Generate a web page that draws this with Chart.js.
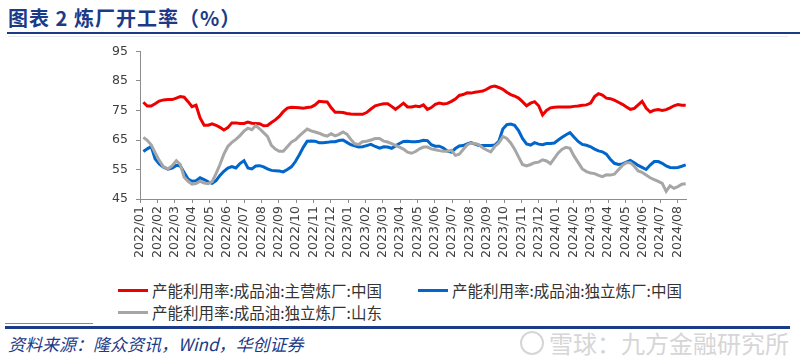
<!DOCTYPE html>
<html>
<head>
<meta charset="utf-8">
<script src="https://cdn.jsdelivr.net/npm/chart.js@4.4.1/dist/chart.umd.min.js"></script>
<style>
  body { margin: 0; width: 800px; height: 362px; position: relative; background: #fff; overflow: hidden; font-family: "Noto Sans CJK SC", sans-serif; }
  #title { position: absolute; left: 8px; top: 7px; font-size: 20px; line-height: 21px; font-weight: bold; color: #1b3a87; letter-spacing: 1px; }
  .rule { position: absolute; }
  #chartBox { position: absolute; left: 0; top: 36px; width: 800px; height: 240px; }
  #legend { position: absolute; left: 118px; top: 279px; width: 600px; display: flex; flex-wrap: wrap; }
  .item { width: 300px; height: 22px; display: flex; align-items: center; font-size: 15.5px; color: #333; }
  .swatch { width: 30px; height: 3px; margin-right: 4px; }
  #source { position: absolute; left: 8px; top: 333px; font-size: 17px; line-height: 22px; font-style: italic; color: #1b3a87; }
  #mark { position: absolute; left: 520px; top: 329px; font-size: 24px; line-height: 28px; color: #d6d6d6; display: flex; align-items: center; }
  #mark .logo { width: 20px; height: 20px; border: 2px solid #d6d6d6; border-radius: 50%; margin-right: 5px; }
</style>
</head>
<body>
<div id="title">图表 2 炼厂开工率（%）</div>
<div class="rule" style="left:7px; top:32px; width:793px; height:2px; background:#1b3a87;"></div>
<div class="rule" style="left:8px; top:36px; width:780px; height:1px; background:#e4e9f2;"></div>
<div id="chartBox"><canvas id="myChart" width="800" height="240"></canvas></div>
<div id="legend"></div>
<div class="rule" style="left:5px; top:323px; width:88px; height:1px; background:#888;"></div>
<div class="rule" style="left:5px; top:326px; width:785px; height:3px; background:#1b3a87;"></div>
<div id="source">资料来源：隆众资讯，Wind，华创证券</div>
<div id="mark"><span class="logo"></span>雪球：九方金融研究所</div>

<script>
// month tick labels
var months = ['2022/01', '2022/02', '2022/03', '2022/04', '2022/05', '2022/06', '2022/07', '2022/08',
  '2022/09', '2022/10', '2022/11', '2022/12', '2023/01', '2023/02', '2023/03', '2023/04',
  '2023/05', '2023/06', '2023/07', '2023/08', '2023/09', '2023/10', '2023/11', '2023/12',
  '2024/01', '2024/02', '2024/03', '2024/04', '2024/05', '2024/06', '2024/07', '2024/08'];

// weekly readings, first week ends 2022-01-07
var firstWeek = [2022, 0, 7];

var mainRefinery = [77.8, 76.5, 76.5, 77.3, 78.2, 78.6, 78.7, 78.7, 79.2, 79.7,
  79.5, 78, 76.3, 76.8, 72.5, 70, 70, 70.5, 70, 69.3,
  68.4, 69.2, 70.8, 70.8, 70.6, 70.6, 71.1, 70.7, 70.6, 70.5,
  69.8, 69.9, 70.9, 71.8, 73, 74.6, 75.8, 76.1, 76, 75.9,
  75.8, 76, 76.2, 76.9, 78.1, 78, 77.9, 75.9, 74.4, 74.4,
  74.3, 74, 73.8, 73.7, 73.7, 73.7, 74.3, 75.5, 76.6, 77,
  77.3, 77.3, 76.4, 75.4, 76.4, 77.5, 76.2, 76.2, 76.5, 76.3,
  76.9, 75.4, 76, 77.1, 77.5, 77.2, 77.4, 78.1, 78.9, 80.1,
  80.4, 81, 80.9, 81.2, 81.4, 81.6, 82.2, 83, 83.3, 82.8,
  82.2, 81.2, 80.4, 79.9, 79.2, 78, 76.6, 77.5, 78, 76.6,
  73.5, 75, 75.9, 76.1, 76.2, 76.2, 76.2, 76.2, 76.4, 76.5,
  76.8, 76.9, 77.5, 79.7, 80.7, 80.2, 79.2, 79, 78.5, 77.8,
  77.1, 76.2, 75.4, 75.7, 76.9, 78.1, 75.8, 74.5, 75.1, 75.3,
  75, 75.3, 75.9, 76.6, 77, 76.8, 76.8];

var independent = [61.1, 62, 62.8, 58.6, 56.9, 55.8, 55.1, 55.5, 56.4, 56.2,
  54, 51.8, 51, 51.2, 52.2, 51.6, 50.8, 50.3, 51.2, 53,
  54.4, 55.5, 56, 55.5, 57, 58, 55.5, 55.2, 56.2, 56.3,
  55.9, 55.2, 54.7, 54.6, 54.5, 54.2, 55, 55.9, 57.7, 60,
  62.5, 64.6, 64.7, 64.6, 64.1, 64.1, 64.2, 64.4, 64.4, 64.8,
  65, 64.2, 63.4, 63, 62.6, 62.7, 63.1, 63.5, 62.8, 62.2,
  62.7, 62.6, 62.2, 63, 63.8, 64.5, 64.6, 64.4, 64.4, 64.6,
  64.9, 64.8, 63.4, 62.9, 62.9, 62.3, 61.2, 60.9, 62.1, 63,
  63.1, 63.7, 64.1, 63.6, 63.1, 63.1, 63.1, 63.1, 63.3, 64.5,
  68.7, 70.2, 70.4, 70, 68.2, 65.5, 63.7, 63.3, 64.1, 63.6,
  63.4, 63.8, 63.8, 64, 65, 65.9, 66.8, 67.5, 66, 64.5,
  63.5, 63.2, 62.7, 61.9, 61.3, 61, 60.2, 58.5, 57.1, 56.7,
  56.9, 57.5, 58.1, 57.3, 56.4, 55.7, 55, 56.5, 57.7, 57.7,
  57.1, 56.2, 55.7, 55.6, 55.7, 56.1, 56.6];

var shandong = [65.9, 64.9, 63.4, 60.7, 58.1, 55.9, 55.2, 56.3, 58, 56.7,
  52.4, 51, 50, 50.2, 51, 50.4, 50.2, 50.9, 53.6, 56.7,
  60.2, 62.8, 64.2, 65.2, 66.5, 68, 69, 68.5, 69.9, 68.8,
  67.5, 66.2, 63.2, 61.9, 61.2, 61.2, 62.7, 64.3, 65.1, 66.4,
  67.6, 68.7, 68.1, 67.7, 67.3, 66.7, 66.3, 67.1, 66.4, 66.9,
  67.7, 67, 65.2, 63.7, 63.5, 64.4, 64.6, 65, 65.5, 65.5,
  64.6, 64.3, 63.8, 63.2, 62.6, 61.9, 60.9, 60.5, 61.1, 62,
  62.6, 62.6, 62, 61.7, 61.4, 61.2, 61.2, 61.5, 59.8, 60.2,
  61.8, 63.3, 64, 63.8, 63.4, 62.4, 61.6, 61, 62.8, 64,
  66.2, 65.5, 64, 61.9, 59.3, 56.7, 56.2, 56.7, 57.3, 57.5,
  58.3, 57.9, 57, 58.8, 60.6, 61.9, 62.5, 62.2, 59.6, 57.4,
  55.2, 54.3, 53.8, 53.6, 53, 52.6, 53.2, 53.1, 53.4, 54.9,
  56.4, 57.3, 57.3, 56.1, 54.5, 54, 53.1, 52.2, 51.6, 51,
  50.3, 47.6, 49.5, 48.6, 49.2, 50, 50.2];

var seriesNames = ['产能利用率:成品油:主营炼厂:中国', '产能利用率:成品油:独立炼厂:中国', '产能利用率:成品油:独立炼厂:山东'];
var seriesColors = ['#ee0000', '#0066cc', '#a6a6a6'];

// week i -> position on the month axis (0 = start of 2022/01)
function monthPos(i) {
  var d = new Date(firstWeek[0], firstWeek[1], firstWeek[2] + 7 * i);
  var dim = new Date(d.getFullYear(), d.getMonth() + 1, 0).getDate();
  return (d.getFullYear() - 2022) * 12 + d.getMonth() + (d.getDate() - 1) / dim;
}

function toPoints(arr) {
  return arr.map(function (v, i) { return { x: monthPos(i), y: v }; });
}

var axisColor = '#8c8c8c';
var tickFont = { family: 'DejaVu Sans', size: 12.5 };

var ctx = document.getElementById('myChart').getContext('2d');
var chart = new Chart(ctx, {
  type: 'line',
  data: {
    datasets: [mainRefinery, independent, shandong].map(function (arr, k) {
      return {
        label: seriesNames[k],
        data: toPoints(arr),
        borderColor: seriesColors[k],
        backgroundColor: seriesColors[k],
        borderWidth: 3,
        pointRadius: 0,
        tension: 0,
        order: 2 - k   // gray drawn on top, like the source
      };
    })
  },
  options: {
    responsive: false,
    animation: false,
    layout: { padding: { top: 8, right: 114, bottom: 7, left: 0 } },
    plugins: { legend: { display: false }, tooltip: { enabled: false } },
    scales: {
      x: {
        type: 'linear',
        min: 0,
        max: 31.5,
        afterFit: function (s) { s.height = 70; },
        ticks: {
          stepSize: 1,
          autoSkip: false,
          includeBounds: false,
          minRotation: 90,
          maxRotation: 90,
          padding: 3,
          color: '#404040',
          font: tickFont,
          callback: function (v) { return months[v]; }
        },
        grid: { drawOnChartArea: false, tickLength: 4, color: axisColor },
        border: { color: axisColor }
      },
      y: {
        min: 45,
        max: 95,
        afterFit: function (s) { s.width = 140; },
        ticks: { stepSize: 10, padding: 8, color: '#404040', font: tickFont },
        grid: { drawOnChartArea: false, tickLength: 4, color: axisColor },
        border: { color: axisColor }
      }
    }
  }
});

// legend built from the chart's own datasets
var legend = document.getElementById('legend');
chart.data.datasets.forEach(function (ds) {
  var item = document.createElement('div');
  item.className = 'item';
  var sw = document.createElement('span');
  sw.className = 'swatch';
  sw.style.background = ds.borderColor;
  item.appendChild(sw);
  item.appendChild(document.createTextNode(ds.label));
  legend.appendChild(item);
});
</script>
</body>
</html>
